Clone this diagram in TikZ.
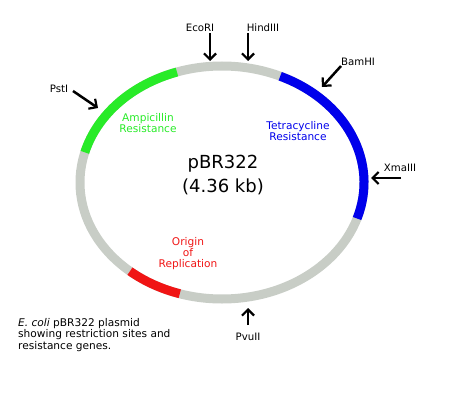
\documentclass[tikz,border=0pt]{standalone}
\usepackage{fontspec}
\setmainfont{DejaVu Sans}
\usetikzlibrary{arrows.meta}
\definecolor{ringgrey}{RGB}{200,205,198}
\definecolor{ampgreen}{RGB}{40,235,40}
\definecolor{tetblue}{RGB}{0,0,235}
\definecolor{orired}{RGB}{240,20,20}
\tikzset{
  ring/.style={line width=9pt},
  site/.style={line width=2.5pt,-{Straight Barb[length=6pt,width=12pt,line width=2.2pt]}},
  lbl/.style={font=\fontsize{10.2}{12}\selectfont,inner sep=0pt},
  gene/.style={font=\fontsize{10.6}{11}\selectfont,align=center,inner sep=0pt},
  ell/.style={x radius=142pt,y radius=116.5pt},
}
\begin{document}
\begin{tikzpicture}[x=1pt,y=1pt]
\useasboundingbox (0,0) rectangle (474,400);
\coordinate (c) at (222,217.5);
\draw[ring,ringgrey] (c) ellipse [ell];
\draw[ring,ampgreen] ([shift={(165:142pt and 116.5pt)}]c) arc[start angle=165,end angle=108.5,ell];
\draw[ring,tetblue] ([shift={(65.8:142pt and 116.5pt)}]c) arc[start angle=65.8,end angle=-18,ell];
\draw[ring,orired] ([shift={(229.6:142pt and 116.5pt)}]c) arc[start angle=229.6,end angle=252.7,ell];

% center title
\node[font=\fontsize{18}{24}\selectfont,align=center] (title) at (223,225) {pBR322\\(4.36 kb)};

% genes
\node[gene,text=ampgreen] (amp) at (148,276.5) {Ampicillin\\Resistance};
\node[gene,text=tetblue] (tet) at (298,268.5) {Tetracycline\\Resistance};
\node[gene,text=orired] (ori) at (188,146) {Origin\\of\\Replication};

% restriction sites
\node[lbl] (ecori) at (200,372.5) {EcoRI};
\coordinate (ecoriS) at (210,367);
\coordinate (ecoriE) at (210,339);
\draw[site] (ecoriS) -- (ecoriE);

\node[lbl] (hind) at (263,372.5) {HindIII};
\coordinate (hindS) at (248,367);
\coordinate (hindE) at (248,339);
\draw[site] (hindS) -- (hindE);

\node[lbl] (bam) at (358,338) {BamHI};
\coordinate (bamS) at (341,334);
\coordinate (bamE) at (322,313);
\draw[site] (bamS) -- (bamE);

\node[lbl] (pst) at (59,311) {PstI};
\coordinate (pstS) at (73,309);
\coordinate (pstE) at (98,292);
\draw[site] (pstS) -- (pstE);

\node[lbl] (xma) at (400,232) {XmaIII};
\coordinate (xmaS) at (401,222);
\coordinate (xmaE) at (371,222);
\draw[site] (xmaS) -- (xmaE);

\node[lbl] (pvu) at (248,63) {PvuII};
\coordinate (pvuS) at (248,75);
\coordinate (pvuE) at (248,92);
\draw[site] (pvuS) -- (pvuE);

% caption
\node[anchor=north west,align=left,inner sep=0pt,font=\fontsize{10.6}{11.5}\selectfont] (cap) at (18,82) {\textit{E. coli} pBR322 plasmid\\showing restriction sites and\\resistance genes.};
\end{tikzpicture}
\end{document}
